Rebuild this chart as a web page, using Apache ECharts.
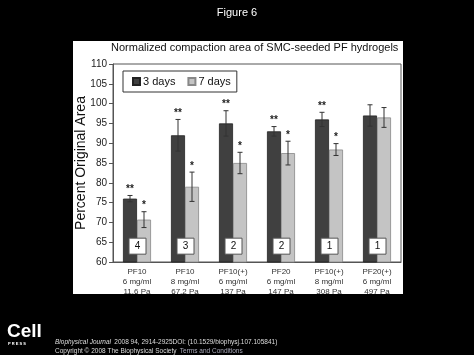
<!DOCTYPE html>
<html>
<head>
<meta charset="utf-8">
<script src="https://cdn.jsdelivr.net/npm/echarts@6/dist/echarts.min.js"></script>
<style>
html,body{margin:0;padding:0;background:#000;}
#c{width:474px;height:355px;}
</style>
</head>
<body>
<div id="c"></div>
<script>
const categories = ['PF10\n6 mg/ml\n11.6 Pa', 'PF10\n8 mg/ml\n67.2 Pa', 'PF10(+)\n6 mg/ml\n137 Pa', 'PF20\n6 mg/ml\n147 Pa', 'PF10(+)\n8 mg/ml\n308 Pa', 'PF20(+)\n6 mg/ml\n497 Pa'];
const day3 = [76, 92, 95, 93, 96, 97];
const day3Err = [0.8, 4, 3.2, 1.2, 1.8, 2.7];
const day7 = [70.7, 79, 85, 87.5, 88.4, 96.5];
const day7Err = [2, 3.7, 2.7, 3, 1.5, 2.5];
const day3Sig = ['**', '**', '**', '**', '**', ''];
const day7Sig = ['*', '*', '*', '*', '*', ''];
const sampleN = ['4', '3', '2', '2', '1', '1'];
const sampleLevel = 64;
const yMin = 60, yMax = 110, yStep = 5;

const FONT = 'Liberation Sans, Arial, sans-serif';
const BAR_W = 14;

function errItem(vals, errs, sig, offset) {
  return function (params, api) {
    const i = api.value(0);
    const c = api.coord([i, vals[i]]);
    const hi = api.coord([i, vals[i] + errs[i]]);
    const lo = api.coord([i, vals[i] - errs[i]]);
    const x = c[0] + offset;
    const cap = 2.5;
    const st = { stroke: '#333', lineWidth: 1 };
    const children = [
      { type: 'line', shape: { x1: x, y1: hi[1], x2: x, y2: lo[1] }, style: st },
      { type: 'line', shape: { x1: x - cap, y1: hi[1], x2: x + cap, y2: hi[1] }, style: st },
      { type: 'line', shape: { x1: x - cap, y1: lo[1], x2: x + cap, y2: lo[1] }, style: st }
    ];
    if (sig[i]) {
      children.push({
        type: 'text',
        style: { text: sig[i], x: x, y: hi[1] - 1, align: 'center', verticalAlign: 'bottom',
                 fill: '#222', font: 'bold 10px ' + FONT }
      });
    }
    return { type: 'group', children: children };
  };
}

const chart = echarts.init(document.getElementById('c'), null, { renderer: 'canvas' });
chart.setOption({
  backgroundColor: '#000',
  animation: false,
  graphic: [
    { type: 'rect', z: -10, silent: true, shape: { x: 73, y: 41, width: 330, height: 253 }, style: { fill: '#fff' } },
    { type: 'text', left: 'center', top: 7, style: { text: 'Figure 6', fill: '#fff', font: '11px ' + FONT } },
    { type: 'text', left: 111, top: 42, style: { text: 'Normalized compaction area of SMC-seeded PF hydrogels', fill: '#111', font: '11px ' + FONT } },
    { type: 'text', left: 7, top: 322, style: { text: 'Cell', fill: '#fff', font: 'bold 19px ' + FONT } },
    { type: 'text', left: 8, top: 342, style: { text: 'P R E S S', fill: '#fff', font: 'bold 4px ' + FONT } },
    { type: 'text', left: 55, top: 336, style: { rich: { i: { fontStyle: 'italic', fontSize: 6.5, fill: '#ddd', fontFamily: FONT }, n: { fontSize: 6.5, fill: '#ddd', fontFamily: FONT } }, text: '{i|Biophysical Journal} {n|2008 94, 2914-2925DOI: (10.1529/biophysj.107.105841)}' } },
    { type: 'text', left: 55, top: 345, style: { rich: { n: { fontSize: 6.5, fill: '#ddd', fontFamily: FONT }, t: { fontSize: 6.5, fill: '#aab', fontFamily: FONT, textDecoration: 'underline' } }, text: '{n|Copyright © 2008 The Biophysical Society} {t|Terms and Conditions}' } }
  ],
  grid: { left: 113, top: 64, right: 73, bottom: 93, show: true, borderColor: '#555', borderWidth: 1, backgroundColor: '#fff' },
  legend: {
    data: ['3 days', '7 days'],
    left: 123, top: 71,
    orient: 'horizontal',
    borderColor: '#333', borderWidth: 1, borderRadius: 0,
    padding: [5, 6, 5, 9], itemGap: 12,
    icon: 'rect', itemWidth: 7, itemHeight: 7,
    textStyle: { fontSize: 11, color: '#111', fontFamily: FONT, padding: [0, 0, 0, -2] }
  },
  xAxis: {
    type: 'category', data: categories,
    axisLine: { lineStyle: { color: '#555' } },
    axisTick: { show: false },
    axisLabel: { fontSize: 8, lineHeight: 10, color: '#333', fontFamily: FONT, margin: 5 }
  },
  yAxis: {
    type: 'value', min: yMin, max: yMax, interval: yStep,
    name: 'Percent Original Area', nameLocation: 'middle', nameGap: 25, nameMoveOverlap: false,
    nameTextStyle: { fontSize: 14, color: '#111', fontFamily: FONT },
    axisLine: { show: true, lineStyle: { color: '#555' } },
    axisTick: { show: true, length: 4, lineStyle: { color: '#555' } },
    axisLabel: { fontSize: 10, color: '#222', fontFamily: FONT, margin: 6 },
    splitLine: { show: false }
  },
  series: [
    { name: '3 days', type: 'bar', data: day3, barWidth: BAR_W, barGap: '0%',
      itemStyle: { color: '#404040', borderColor: '#222', borderWidth: 0.8 } },
    { name: '7 days', type: 'bar', data: day7, barWidth: BAR_W, barGap: '0%',
      itemStyle: { color: '#c4c4c4', borderColor: '#888', borderWidth: 0.8 } },
    { type: 'custom', data: categories.map((c, i) => [i]), renderItem: errItem(day3, day3Err, day3Sig, -BAR_W / 2), z: 5 },
    { type: 'custom', data: categories.map((c, i) => [i]), renderItem: errItem(day7, day7Err, day7Sig, BAR_W / 2), z: 5 },
    { type: 'custom', data: sampleN.map((n, i) => [i, sampleLevel]), z: 6,
      renderItem: function (params, api) {
        const i = api.value(0);
        const p = api.coord([i, api.value(1)]);
        return { type: 'group', children: [
          { type: 'rect', shape: { x: p[0] - 8, y: p[1] - 8, width: 17, height: 16 }, style: { fill: '#fff', stroke: '#555', lineWidth: 1 } },
          { type: 'text', style: { text: sampleN[i], x: p[0] + 0.5, y: p[1], align: 'center', verticalAlign: 'middle', fill: '#111', font: '10px ' + FONT } }
        ] };
      } }
  ]
});
</script>
</body>
</html>
